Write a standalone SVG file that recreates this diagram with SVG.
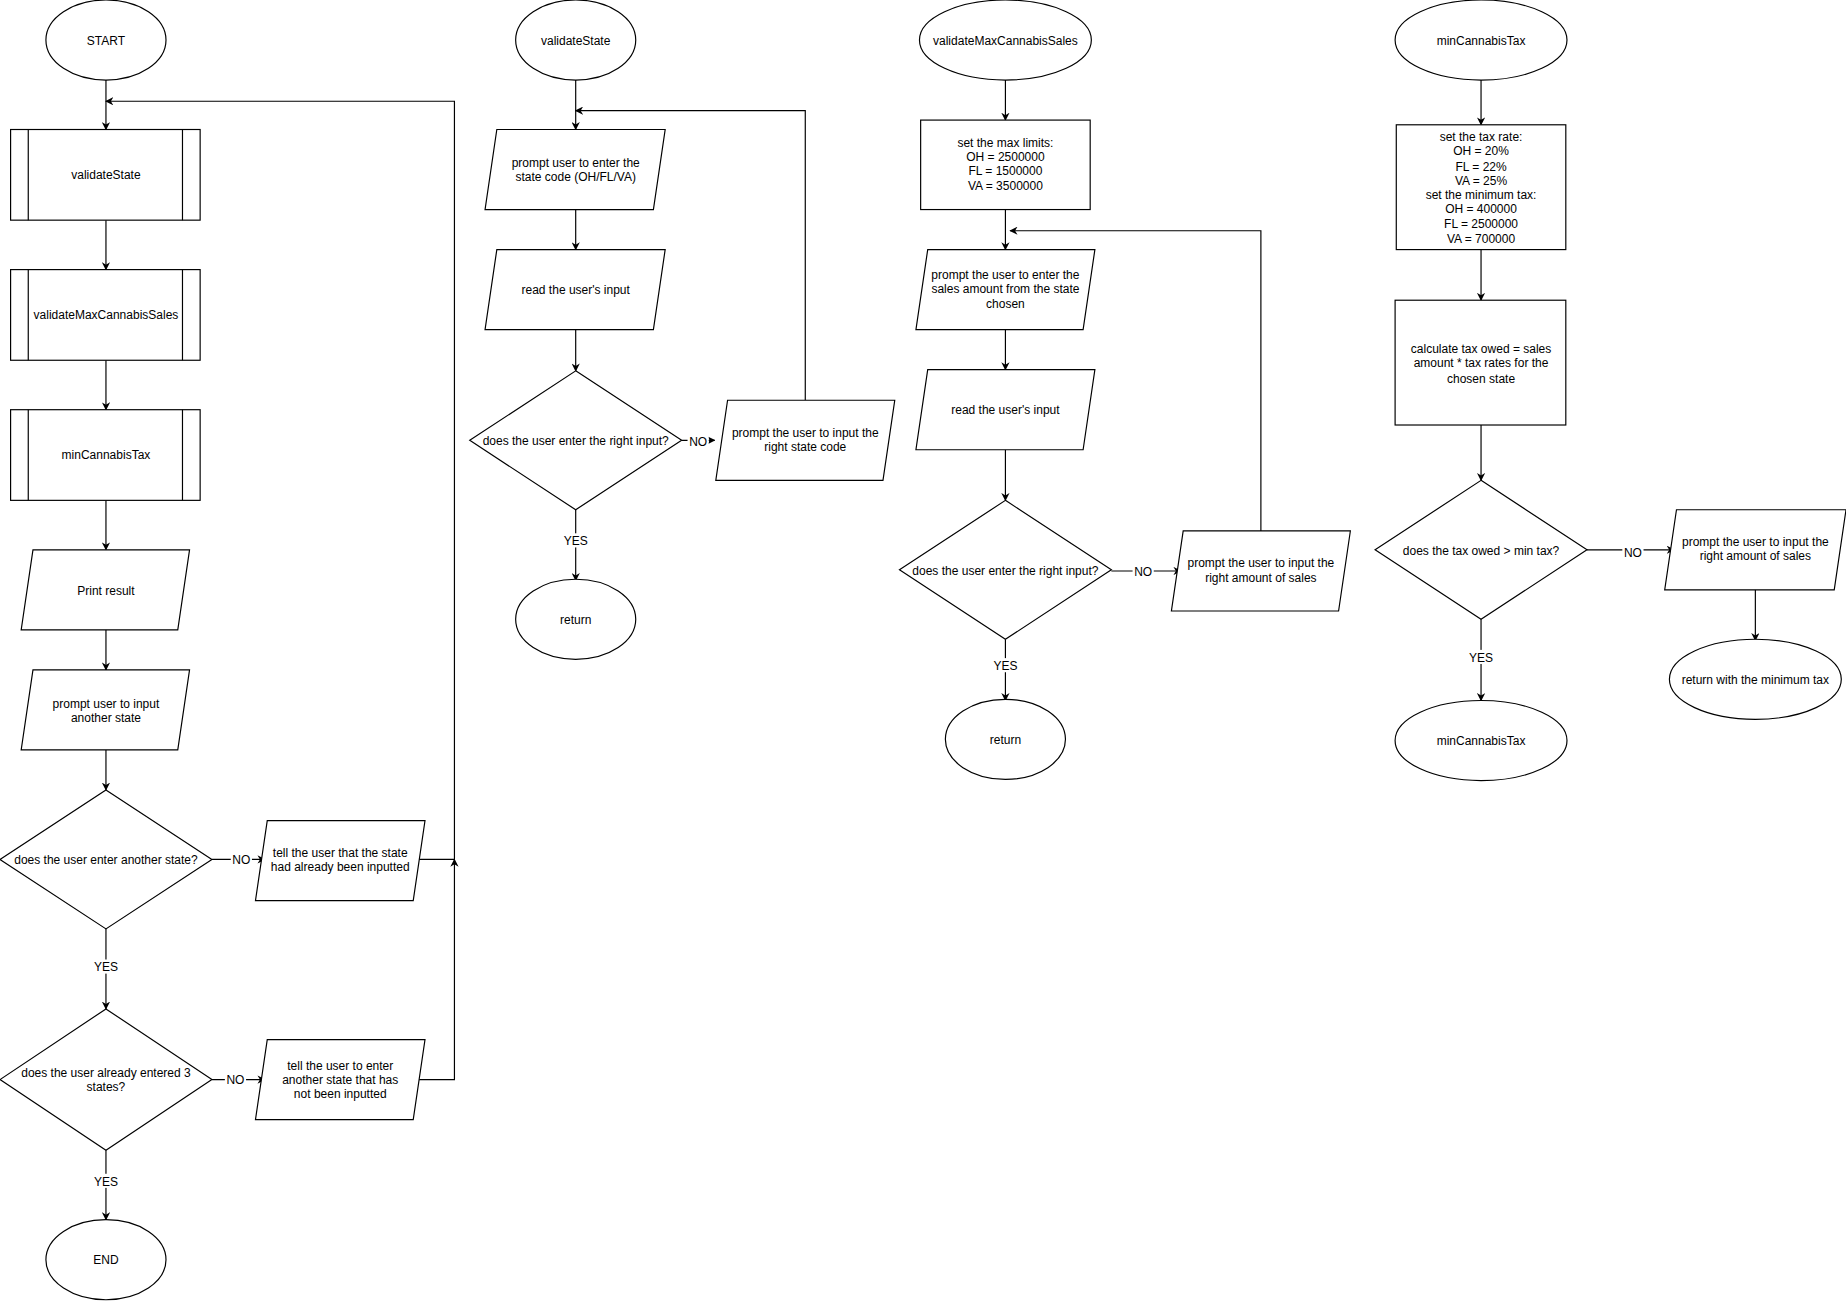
<svg xmlns="http://www.w3.org/2000/svg" width="1846" height="1301" viewBox="0 0 1846 1301">
<style>
.s{fill:#fff;stroke:#000;stroke-width:1}
.c{fill:none;stroke:#000;stroke-width:1}
text{font-family:"Liberation Sans",Arial,sans-serif;font-size:10.2px;text-anchor:middle;fill:#000}
.lb{fill:#fff}
</style>
<defs><marker id="a" viewBox="0 0 10 10" refX="9" refY="5" markerWidth="7" markerHeight="7" orient="auto" markerUnits="userSpaceOnUse"><path d="M0,0L10,5L0,10L3,5z" fill="#000"/></marker></defs>
<rect width="1846" height="1301" fill="#fff"/>
<g transform="scale(1.17730)">
<g id="connectors" marker-end="url(#a)">
<path class="c" d="M90,68V110"/><path class="c" d="M90,187V229"/><path class="c" d="M90,306V348"/><path class="c" d="M90,425V467"/><path class="c" d="M90,535V569"/><path class="c" d="M90,637V671"/>
<path class="c" d="M180,730H225"/><path class="c" d="M356,730H386V86H90"/><path class="c" d="M356,917H386V730"/>
<path class="c" d="M90,789V857"/><path class="c" d="M180,917H225"/><path class="c" d="M90,977V1036"/>
<path class="c" d="M489,68V110"/><path class="c" d="M684,340V94H489"/><path class="c" d="M489,178V212"/><path class="c" d="M489,280V315"/><path class="c" d="M579,374H607"/><path class="c" d="M489,433V493"/>
<path class="c" d="M854,68V102"/><path class="c" d="M854,178V212"/><path class="c" d="M1071,451V196H858"/><path class="c" d="M854,280V314"/><path class="c" d="M854,382V425"/><path class="c" d="M944,485H1003"/><path class="c" d="M854,543V595"/>
<path class="c" d="M1258,68V106"/><path class="c" d="M1258,212V255"/><path class="c" d="M1258,361V408"/><path class="c" d="M1348,467H1422"/><path class="c" d="M1491,501V544"/><path class="c" d="M1258,526V595"/>
</g>
<g id="labels">
<rect class="lb" x="196" y="724" width="18" height="12"/><text x="205" y="734">NO</text>
<rect class="lb" x="79" y="815" width="22" height="12"/><text x="90" y="825">YES</text>
<rect class="lb" x="191" y="911" width="18" height="12"/><text x="200" y="921">NO</text>
<rect class="lb" x="79" y="997" width="22" height="12"/><text x="90" y="1007">YES</text>
<rect class="lb" x="584" y="369" width="18" height="12"/><text x="593" y="379">NO</text>
<rect class="lb" x="478" y="453" width="22" height="12"/><text x="489" y="463">YES</text>
<rect class="lb" x="962" y="479" width="18" height="12"/><text x="971" y="489">NO</text>
<rect class="lb" x="843" y="559" width="22" height="12"/><text x="854" y="569">YES</text>
<rect class="lb" x="1378" y="463" width="18" height="12"/><text x="1387" y="473">NO</text>
<rect class="lb" x="1247" y="552" width="22" height="12"/><text x="1258" y="562">YES</text>
</g>
<g id="start"><ellipse class="s" cx="90" cy="34" rx="51" ry="34"/><text x="90" y="38">START</text></g>
<g id="p1"><rect class="s" x="9" y="110" width="161" height="77"/><path class="c" d="M24,110V187M155,110V187"/><text x="90" y="152">validateState</text></g>
<g id="p2"><rect class="s" x="9" y="229" width="161" height="77"/><path class="c" d="M24,229V306M155,229V306"/><text x="90" y="271">validateMaxCannabisSales</text></g>
<g id="p3"><rect class="s" x="9" y="348" width="161" height="77"/><path class="c" d="M24,348V425M155,348V425"/><text x="90" y="390">minCannabisTax</text></g>
<g id="print"><path class="s" d="M28,467H161L151,535H18Z"/><text x="90" y="505">Print result</text></g>
<g id="promptAnother"><path class="s" d="M28,569H161L151,637H18Z"/><text x="90" y="601">prompt user to input</text><text x="90" y="613">another state</text></g>
<g id="d1"><path class="s" d="M90,671L180,730L90,789L0,730Z"/><text x="90" y="734">does the user enter another state?</text></g>
<g id="tell1"><path class="s" d="M227,697H361L351,765H217Z"/><text x="289" y="728">tell the user that the state</text><text x="289" y="740">had already been inputted</text></g>
<g id="d2"><path class="s" d="M90,857L180,917L90,977L0,917Z"/><text x="90" y="915">does the user already entered 3</text><text x="90" y="927">states?</text></g>
<g id="tell2"><path class="s" d="M227,883H361L351,951H217Z"/><text x="289" y="909">tell the user to enter</text><text x="289" y="921">another state that has</text><text x="289" y="933">not been inputted</text></g>
<g id="end"><ellipse class="s" cx="90" cy="1070" rx="51" ry="34"/><text x="90" y="1074">END</text></g>

<g id="vs"><ellipse class="s" cx="489" cy="34" rx="51" ry="34"/><text x="489" y="38">validateState</text></g>
<g id="vs1"><path class="s" d="M422,110H565L555,178H412Z"/><text x="489" y="142">prompt user to enter the</text><text x="489" y="154">state code (OH/FL/VA)</text></g>
<g id="vs2"><path class="s" d="M422,212H565L555,280H412Z"/><text x="489" y="250">read the user's input</text></g>
<g id="vsd"><path class="s" d="M489,315L579,374L489,433L399,374Z"/><text x="489" y="378">does the user enter the right input?</text></g>
<g id="vs3"><path class="s" d="M618,340H760L750,408H608Z"/><text x="684" y="371">prompt the user to input the</text><text x="684" y="383">right state code</text></g>
<g id="vsr"><ellipse class="s" cx="489" cy="526" rx="51" ry="34"/><text x="489" y="530">return</text></g>

<g id="vm"><ellipse class="s" cx="854" cy="34" rx="73" ry="34"/><text x="854" y="38">validateMaxCannabisSales</text></g>
<g id="vm1"><rect class="s" x="782" y="102" width="144" height="76"/><text x="854" y="125">set the max limits:</text><text x="854" y="137">OH = 2500000</text><text x="854" y="149">FL = 1500000</text><text x="854" y="161">VA = 3500000</text></g>
<g id="vm2"><path class="s" d="M788,212H930L920,280H778Z"/><text x="854" y="237">prompt the user to enter the</text><text x="854" y="249">sales amount from the state</text><text x="854" y="262">chosen</text></g>
<g id="vm3"><path class="s" d="M788,314H930L920,382H778Z"/><text x="854" y="352">read the user's input</text></g>
<g id="vmd"><path class="s" d="M854,425L944,484L854,543L764,484Z"/><text x="854" y="488">does the user enter the right input?</text></g>
<g id="vm4"><path class="s" d="M1005,451H1147L1137,519H995Z"/><text x="1071" y="482">prompt the user to input the</text><text x="1071" y="494">right amount of sales</text></g>
<g id="vmr"><ellipse class="s" cx="854" cy="628" rx="51" ry="34"/><text x="854" y="632">return</text></g>

<g id="mt"><ellipse class="s" cx="1258" cy="34" rx="73" ry="34"/><text x="1258" y="38">minCannabisTax</text></g>
<g id="mt1"><rect class="s" x="1186" y="106" width="144" height="106"/><text x="1258" y="120">set the tax rate:</text><text x="1258" y="132">OH = 20%</text><text x="1258" y="145">FL = 22%</text><text x="1258" y="157">VA = 25%</text><text x="1258" y="169">set the minimum tax:</text><text x="1258" y="181">OH = 400000</text><text x="1258" y="194">FL = 2500000</text><text x="1258" y="206">VA = 700000</text></g>
<g id="mt2"><rect class="s" x="1185" y="255" width="145" height="106"/><text x="1258" y="300">calculate tax owed = sales</text><text x="1258" y="312">amount * tax rates for the</text><text x="1258" y="325">chosen state</text></g>
<g id="mtd"><path class="s" d="M1258,408L1348,467L1258,526L1168,467Z"/><text x="1258" y="471">does the tax owed &gt; min tax?</text></g>
<g id="mt3"><path class="s" d="M1424,433H1568L1558,501H1414Z"/><text x="1491" y="464">prompt the user to input the</text><text x="1491" y="476">right amount of sales</text></g>
<g id="mtr"><ellipse class="s" cx="1491" cy="577" rx="73" ry="34"/><text x="1491" y="581">return with the minimum tax</text></g>
<g id="mt4"><ellipse class="s" cx="1258" cy="629" rx="73" ry="34"/><text x="1258" y="633">minCannabisTax</text></g>
</g>
</svg>
